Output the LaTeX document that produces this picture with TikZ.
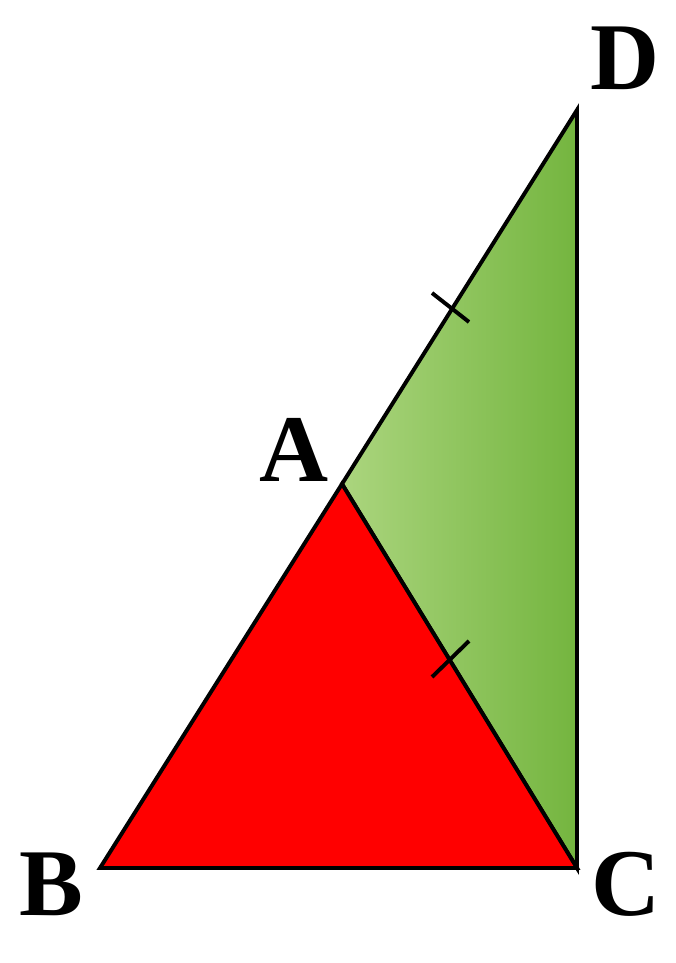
\documentclass[tikz,border=0pt]{standalone}
\usepackage{fontspec}
\setmainfont{Liberation Serif}
\definecolor{lightgrn}{HTML}{ABD57E}
\definecolor{darkgrn}{HTML}{74B53F}
\begin{document}
\begin{tikzpicture}
    \tikzstyle{every node}=[font={\fontsize{68}{68}\selectfont\bfseries}, inner sep=0pt, anchor=base]
    \tikzstyle{edge}=[line width=2.8pt]
    \useasboundingbox (0,0) rectangle (16.9,24.075);
    \coordinate (A) at (8.55,11.975);
    \coordinate (B) at (2.5,2.375);
    \coordinate (C) at (14.425,2.375);
    \coordinate (D) at (14.425,21.325);
    \coordinate (t1a) at (10.8,16.75);
    \coordinate (t1b) at (11.725,16.025);
    \coordinate (t2a) at (10.8,7.15);
    \coordinate (t2b) at (11.725,8.05);
    \shade[left color=lightgrn, right color=darkgrn] (A) -- (C) -- (D) -- cycle;
    \draw[edge] (A) -- (C) -- (D) -- cycle;
    \draw[edge, fill=red] (A) -- (B) -- (C) -- cycle;
    \draw[edge] (t1a) -- (t1b);
    \draw[edge] (t2a) -- (t2b);
    \node (lA) at (7.3625,12.025) {A};
    \node (lB) at (1.2875,1.175) {B};
    \node (lC) at (15.65,1.175) {C};
    \node (lD) at (15.625,21.825) {D};
\end{tikzpicture}
\end{document}
